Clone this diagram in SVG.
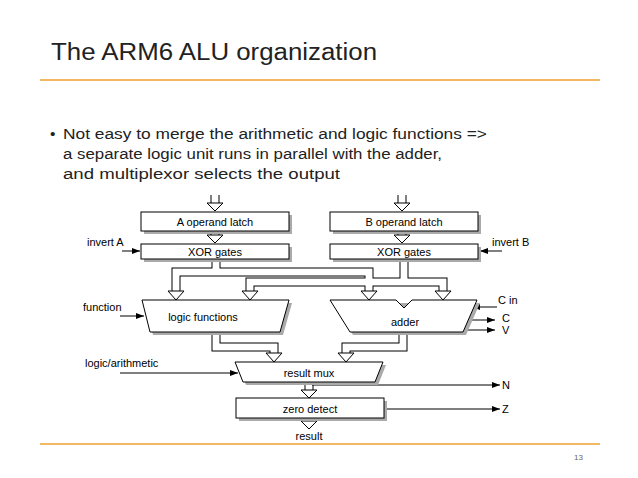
<svg xmlns="http://www.w3.org/2000/svg" width="638" height="478" viewBox="0 0 638 478">
<style>
.t{font-family:"Liberation Sans",Arial,sans-serif;font-size:11px;fill:#000}
.m{text-anchor:middle}
.box{fill:#fff;stroke:#000;stroke-width:1}
.sh{fill:#aaa}
.bo{fill:none;stroke:#000;stroke-width:9;stroke-linejoin:miter}
.bi{fill:none;stroke:#fff;stroke-width:7;stroke-linejoin:miter}
.ah{fill:#fff;stroke:#000;stroke-width:1}
.ln{stroke:#000;stroke-width:1;fill:none;marker-end:url(#a)}
</style>
<defs><marker id="a" markerWidth="8" markerHeight="6" refX="8" refY="3" orient="auto" markerUnits="userSpaceOnUse"><path d="M0,0L8,3L0,6z" fill="#000"/></marker></defs>
<rect width="638" height="478" fill="#fff"/>
<text x="51" y="60" font-family="Liberation Sans,sans-serif" font-size="23" fill="#222" textLength="326" lengthAdjust="spacingAndGlyphs">The ARM6 ALU organization</text>
<line x1="40" y1="80" x2="600" y2="80" stroke="#f0a030" stroke-width="1.5"/>
<g font-family="Liberation Sans,sans-serif" font-size="15.5" fill="#222">
<text x="50" y="139">•</text>
<text x="63" y="139" textLength="424" lengthAdjust="spacingAndGlyphs">Not easy to merge the arithmetic and logic functions =&gt;</text>
<text x="63" y="159" textLength="379" lengthAdjust="spacingAndGlyphs">a separate logic unit runs in parallel with the adder,</text>
<text x="63" y="179" textLength="277" lengthAdjust="spacingAndGlyphs">and multiplexor selects the output</text>
</g>
<line x1="40" y1="444" x2="600" y2="444" stroke="#f0a030" stroke-width="1.5"/>
<text x="574" y="460" font-family="Liberation Sans,sans-serif" font-size="8" fill="#666">13</text>

<g id="connectors">
<path class="bo" d="M215,195V204M402,195V204M215,231V236M402,231V236M216,259V272H176V292M216,272H369V292M404,259V282H250V292M404,282H443V292M216,332V347H274V354M403,332V347H346V354M309,382V391M309,418V422"/>
<path class="bi" d="M215,194V205M402,194V205M215,230V237M402,230V237M216,258V272H176V293M216,272H369V293M404,258V282H250V293M404,282H443V293M216,331V347H274V355M403,331V347H346V355M309,381V392M309,417V423"/>
<g class="ah">
<polygon points="207,203 223,203 215,211"/><polygon points="394,203 410,203 402,211"/>
<polygon points="207,235 223,235 215,243"/><polygon points="394,235 410,235 402,243"/>
<polygon points="168,291 184,291 176,300"/><polygon points="242,291 258,291 250,300"/>
<polygon points="361,291 377,291 369,300"/><polygon points="435,291 451,291 443,300"/>
<polygon points="266,353 282,353 274,362"/><polygon points="338,353 354,353 346,362"/>
<polygon points="301,390 317,390 309,398"/><polygon points="301,421 317,421 309,429"/>
</g>
<path class="ln" d="M122,251H140"/>
<path class="ln" d="M502,251H480"/>
<path class="ln" d="M120,316H144"/>
<path class="ln" d="M497,307H472"/>
<path class="ln" d="M466,320H495"/>
<path class="ln" d="M463,330H495"/>
<path class="ln" d="M120,373H238"/>
<path class="ln" d="M312,385H500"/>
<path class="ln" d="M384,409H500"/>
</g>

<g id="alatch"><rect class="sh" x="144" y="215" width="148" height="19"/><rect class="box" x="141" y="212" width="148" height="19"/><text class="t m" x="215" y="226">A operand latch</text></g>
<g id="blatch"><rect class="sh" x="333" y="215" width="148" height="19"/><rect class="box" x="330" y="212" width="148" height="19"/><text class="t m" x="404" y="226">B operand latch</text></g>
<g id="xora"><rect class="sh" x="144" y="247" width="148" height="15"/><rect class="box" x="141" y="244" width="148" height="15"/><text class="t m" x="215" y="256">XOR gates</text></g>
<g id="xorb"><rect class="sh" x="333" y="247" width="148" height="15"/><rect class="box" x="330" y="244" width="148" height="15"/><text class="t m" x="404" y="256">XOR gates</text></g>
<g id="logic"><polygon class="sh" points="145,303 292,303 283,335 153,335"/><polygon class="box" points="142,300 289,300 280,332 150,332"/><text class="t m" x="203" y="321">logic functions</text></g>
<g id="adder"><polygon class="sh" points="333,303 480,303 466,335 353,335"/><polygon class="box" points="330,300 396,300 404,308 412,300 477,300 463,332 350,332"/><text class="t m" x="405" y="326">adder</text></g>
<g id="mux"><polygon class="sh" points="238,365 386,365 378,385 246,385"/><polygon class="box" points="235,362 383,362 375,382 243,382"/><text class="t m" x="309" y="377">result mux</text></g>
<g id="zero"><rect class="sh" x="239" y="401" width="148" height="20"/><rect class="box" x="236" y="398" width="148" height="20"/><text class="t m" x="310" y="413">zero detect</text></g>

<g id="labels">
<text class="t" x="87" y="246">invert A</text>
<text class="t" x="492" y="246">invert B</text>
<text class="t" x="83" y="311">function</text>
<text class="t" x="498" y="304">C in</text>
<text class="t" x="502" y="322">C</text>
<text class="t" x="502" y="334">V</text>
<text class="t" x="85" y="367">logic/arithmetic</text>
<text class="t" x="502" y="389">N</text>
<text class="t" x="502" y="413">Z</text>
<text class="t m" x="309" y="440">result</text>
</g>
</svg>
